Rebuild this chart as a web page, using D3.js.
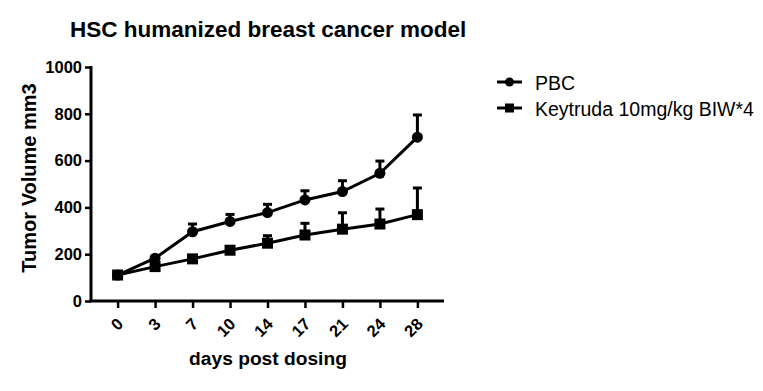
<!DOCTYPE html>
<html><head><meta charset="utf-8">
<script src="https://cdn.jsdelivr.net/npm/d3@7"></script>
<style>body{margin:0;background:#fff;} text{font-family:"Liberation Sans",Arial,sans-serif;}</style>
</head><body><svg id="c" width="763" height="391"></svg>
<script>
const days = ["0","3","7","10","14","17","21","24","28"];
const pbcMean = [111,183,296,340,378,432,468,546,700];
const pbcErr  = [0,8,33,30,35,39,46,52,95];
const keyMean = [111,147,180,217,247,282,307,329,369];
const keyErr  = [0,6,8,8,32,50,70,64,114];
const yTicks = [0,200,400,600,800,1000];
const seriesNames = ["PBC","Keytruda 10mg/kg BIW*4"];

const svg = d3.select("#c");
const x = d3.scalePoint().domain(days).range([91,444]).padding(0.71);
const y = d3.scaleLinear().domain([0,1000]).range([301,67]);

svg.append("text").attr("x",70).attr("y",37).attr("font-size",22.5).attr("font-weight","bold").text("HSC humanized breast cancer model");

const ya = svg.append("g").attr("transform","translate(91,0)")
  .call(d3.axisLeft(y).tickValues(yTicks).tickFormat(d3.format("d")).tickSize(6).tickPadding(3).tickSizeOuter(0));
ya.select(".domain").attr("stroke","#000").attr("stroke-width",3).attr("d","M0,301.5V66");
ya.selectAll(".tick line").attr("stroke-width",2.5);
ya.selectAll(".tick text").attr("font-size",16.5).attr("font-weight","bold").attr("font-family","Liberation Sans, Arial").attr("fill","#000");

const xa = svg.append("g").attr("transform","translate(0,301)")
  .call(d3.axisBottom(x).tickSize(7).tickSizeOuter(0));
xa.select(".domain").attr("stroke","#000").attr("stroke-width",3).attr("d","M89.5,0H444");
xa.selectAll(".tick line").attr("stroke-width",2.5);
xa.selectAll(".tick text").attr("font-size",16.5).attr("font-weight","bold").attr("font-family","Liberation Sans, Arial").attr("fill","#000")
  .attr("text-anchor","end").attr("dy","0.35em").attr("y",0)
  .attr("transform","translate(2,20) rotate(-45)");

svg.append("text").attr("transform","translate(36,178) rotate(-90)").attr("text-anchor","middle")
  .attr("font-size",20).attr("font-weight","bold").text("Tumor Volume mm3");
svg.append("text").attr("x",268).attr("y",365).attr("text-anchor","middle")
  .attr("font-size",19.2).attr("font-weight","bold").text("days post dosing");

const line = d3.line().x((d,i)=>x(days[i])).y(d=>y(d));
function drawSeries(mean, err, shape){
  const g = svg.append("g");
  mean.forEach((m,i)=>{
    if(err[i]<=0) return;
    const cx = x(days[i]);
    g.append("line").attr("x1",cx).attr("x2",cx).attr("y1",y(m)).attr("y2",y(m+err[i])).attr("stroke","#000").attr("stroke-width",3);
    g.append("line").attr("x1",cx-4.5).attr("x2",cx+4.5).attr("y1",y(m+err[i])).attr("y2",y(m+err[i])).attr("stroke","#000").attr("stroke-width",3);
  });
  g.append("path").datum(mean).attr("d",line).attr("fill","none").attr("stroke","#000").attr("stroke-width",3);
  mean.forEach((m,i)=>{
    const cx = x(days[i]), cy = y(m);
    if(shape==="circle") g.append("circle").attr("cx",cx).attr("cy",cy).attr("r",5.5).attr("fill","#000");
    else g.append("rect").attr("x",cx-5.5).attr("y",cy-5.5).attr("width",11).attr("height",11).attr("fill","#000");
  });
}
drawSeries(keyMean,keyErr,"square");
drawSeries(pbcMean,pbcErr,"circle");

const legY = [82,108];
seriesNames.forEach((n,i)=>{
  const g = svg.append("g");
  g.append("line").attr("x1",497).attr("x2",522).attr("y1",legY[i]).attr("y2",legY[i]).attr("stroke","#000").attr("stroke-width",3);
  if(i===0) g.append("circle").attr("cx",509.5).attr("cy",legY[i]).attr("r",4.5).attr("fill","#000");
  else g.append("rect").attr("x",505).attr("y",legY[i]-4.5).attr("width",9).attr("height",9).attr("fill","#000");
  g.append("text").attr("x",535).attr("y",legY[i]+7.5).attr("font-size",19.5).text(n);
});
</script></body></html>
